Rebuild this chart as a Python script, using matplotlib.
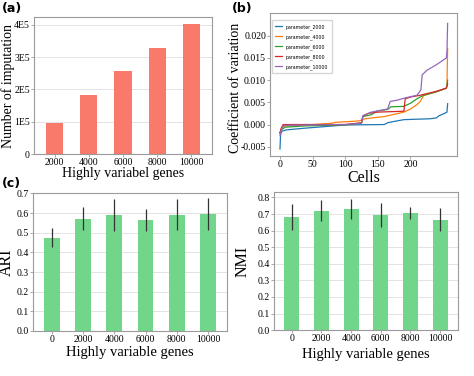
import matplotlib
matplotlib.use("Agg")
import matplotlib.pyplot as plt

plt.rcParams["font.family"] = ["Liberation Serif", "DejaVu Serif"]

# (a) number of imputations
hvg_a = ["2000", "4000", "6000", "8000", "10000"]
n_imput = [0.97e5, 1.84e5, 2.56e5, 3.28e5, 4.01e5]

# (b) coefficient of variation per cell (sorted), breakpoints
cv_labels = ["parameter_2000", "parameter_4000", "parameter_6000", "parameter_8000", "parameter_10000"]
cv_x = [
    [0, 1, 3, 10, 40, 100, 160, 165, 175, 190, 230, 240, 244, 252, 256, 257],
    [0, 2, 5, 40, 80, 85, 120, 126, 130, 160, 190, 200, 210, 215, 220, 240, 255, 256, 257],
    [0, 2, 8, 40, 100, 125, 127, 140, 148, 165, 170, 190, 200, 210, 220, 240, 255, 256, 257],
    [0, 2, 5, 40, 100, 125, 127, 135, 150, 190, 192, 200, 215, 240, 255, 256, 257],
    [0, 2, 6, 40, 100, 125, 127, 140, 165, 169, 180, 192, 210, 216, 218, 225, 240, 255, 256, 257],
]
cv_y = [
    [-0.0055, -0.0022, -0.0015, -0.0012, -0.0008, -0.0001, 0.0000, 0.0004, 0.0007, 0.0011,
     0.0013, 0.0015, 0.0020, 0.0025, 0.0028, 0.0047],
    [-0.0020, -0.0010, -0.0004, -0.0001, 0.0003, 0.0005, 0.0008, 0.0010, 0.0013, 0.0018,
     0.0028, 0.0035, 0.0045, 0.0052, 0.0065, 0.0074, 0.0082, 0.0090, 0.0172],
    [-0.0020, -0.0012, -0.0006, -0.0003, -0.0001, 0.0003, 0.0018, 0.0022, 0.0030, 0.0034,
     0.0040, 0.0041, 0.0048, 0.0058, 0.0066, 0.0074, 0.0082, 0.0088, 0.0100],
    [-0.0018, -0.0008, 0.0000, 0.0000, 0.0000, 0.0004, 0.0018, 0.0025, 0.0028, 0.0030,
     0.0058, 0.0062, 0.0066, 0.0075, 0.0082, 0.0086, 0.0092],
    [-0.0025, -0.0012, -0.0002, -0.0001, 0.0000, 0.0003, 0.0020, 0.0028, 0.0035, 0.0052,
     0.0055, 0.0060, 0.0066, 0.0078, 0.0112, 0.0122, 0.0135, 0.0150, 0.0165, 0.0228],
]

# (c) ARI / NMI
hvg_c = ["0", "2000", "4000", "6000", "8000", "10000"]
ari = [0.475, 0.572, 0.589, 0.565, 0.591, 0.594]
ari_err = [0.047, 0.060, 0.080, 0.055, 0.078, 0.082]
nmi = [0.681, 0.720, 0.730, 0.695, 0.705, 0.665]
nmi_err = [0.080, 0.063, 0.062, 0.072, 0.035, 0.070]

spine_c = "#9a9a9a"
grid_c = "#e3e3e3"

fig = plt.figure(figsize=(4.74, 3.76), dpi=100)


def style(ax, grid=True):
    for s in ax.spines.values():
        s.set_color(spine_c)
        s.set_linewidth(0.8)
    ax.tick_params(length=2, width=0.6, color=spine_c, pad=1, labelsize=7)
    if grid:
        ax.yaxis.grid(True, color=grid_c, lw=0.7)
        ax.set_axisbelow(True)


# (a)
ax1 = fig.add_axes([0.0717, 0.590, 0.3755, 0.364])
ax1.bar(range(len(hvg_a)), n_imput, width=0.5, color="#f97a6b")
ax1.set_xticks(range(len(hvg_a)))
ax1.set_xticklabels(hvg_a)
ax1.set_yticks([0, 1e5, 2e5, 3e5, 4e5])
ax1.set_yticklabels(["0", "1E5", "2E5", "3E5", "4E5"])
ax1.set_ylim(0, 4.23e5)
ax1.set_xlim(-0.6, 4.6)
style(ax1)
ax1.set_xlabel("Highly variabel genes", fontsize=10)
ax1.set_ylabel("Number of imputation", fontsize=10)
ax1.xaxis.set_label_coords(0.5, -0.095)
ax1.yaxis.set_label_coords(-0.108, 0.5)

# (b)
ax2 = fig.add_axes([0.570, 0.585, 0.395, 0.380])
for xs, ys, lab in zip(cv_x, cv_y, cv_labels):
    ax2.plot(xs, ys, lw=0.9, label=lab)
ax2.set_xlim(-15, 272)
ax2.set_ylim(-0.0071, 0.0251)
ax2.set_xticks([0, 50, 100, 150, 200])
ax2.set_yticks([-0.005, 0.0, 0.005, 0.010, 0.015, 0.020])
ax2.set_yticklabels(["-0.005", "0.000", "0.005", "0.010", "0.015", "0.020"])
style(ax2, grid=False)
ax2.set_xlabel("Cells", fontsize=11.5)
ax2.set_ylabel("Coefficient of variation", fontsize=10)
ax2.xaxis.set_label_coords(0.5, -0.098)
ax2.yaxis.set_label_coords(-0.15, 0.48)
ax2.legend(loc="upper left", bbox_to_anchor=(0.0, 0.96), borderaxespad=0.3,
           prop={"family": "DejaVu Sans", "size": 3.4}, frameon=True,
           edgecolor="#cccccc", handlelength=1.3, labelspacing=0.9, borderpad=0.8,
           fancybox=False)

# (c) ARI
ax3 = fig.add_axes([0.0696, 0.1197, 0.409, 0.367])
ax3.bar(range(len(hvg_c)), ari, width=0.5, color="#72d68a", yerr=ari_err,
        error_kw=dict(ecolor="#333333", elinewidth=0.9, capsize=0))
ax3.set_xticks(range(len(hvg_c)))
ax3.set_xticklabels(hvg_c)
ax3.set_ylim(0, 0.702)
ax3.set_xlim(-0.6, 5.6)
ax3.set_yticks([0.0, 0.1, 0.2, 0.3, 0.4, 0.5, 0.6, 0.7])
style(ax3)
ax3.set_xlabel("Highly variable genes", fontsize=10.5)
ax3.set_ylabel("ARI", fontsize=11.5)
ax3.xaxis.set_label_coords(0.5, -0.109)
ax3.yaxis.set_label_coords(-0.095, 0.5)

# (d) NMI
ax4 = fig.add_axes([0.578, 0.122, 0.388, 0.367])
ax4.bar(range(len(hvg_c)), nmi, width=0.5, color="#72d68a", yerr=nmi_err,
        error_kw=dict(ecolor="#333333", elinewidth=0.9, capsize=0))
ax4.set_xticks(range(len(hvg_c)))
ax4.set_xticklabels(hvg_c)
ax4.set_ylim(0, 0.832)
ax4.set_xlim(-0.6, 5.6)
ax4.set_yticks([0.0, 0.1, 0.2, 0.3, 0.4, 0.5, 0.6, 0.7, 0.8])
style(ax4)
ax4.set_xlabel("Highly variable genes", fontsize=10.5)
ax4.set_ylabel("NMI", fontsize=11.5)
ax4.xaxis.set_label_coords(0.5, -0.13)
ax4.yaxis.set_label_coords(-0.125, 0.5)

# panel letters
for x, y, s in [(0.004, 0.995, "(a)"), (0.489, 0.995, "(b)"), (0.004, 0.528, "(c)")]:
    fig.text(x, y, s, fontsize=9, fontweight="bold", va="top", family="DejaVu Sans")

fig.savefig("out.png", dpi=100)
